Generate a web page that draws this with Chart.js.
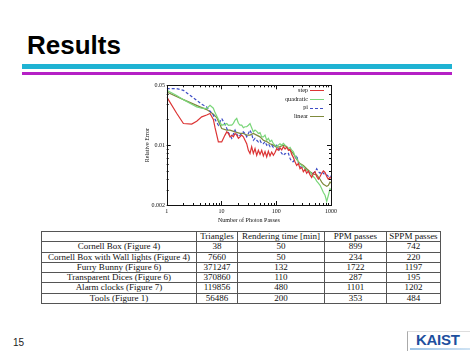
<!DOCTYPE html>
<html><head><meta charset="utf-8">
<script src="https://cdn.jsdelivr.net/npm/chart.js@4.4.0/dist/chart.umd.min.js"></script>
<style>
html,body{margin:0;padding:0;background:#fff;width:474px;height:355px;overflow:hidden;}
body{position:relative;font-family:"Liberation Sans",Arial,sans-serif;}
#title{position:absolute;left:27px;top:30px;font:bold 26px "Liberation Sans",Arial,sans-serif;color:#000;line-height:30px;margin:0;}
.bar1{position:absolute;left:22px;top:64px;width:430px;height:5px;background:#1fb3d3;}
.bar2{position:absolute;left:22px;top:72px;width:430px;height:3px;background:#b520c5;}
#cv{position:absolute;left:138px;top:80px;width:202px;height:148px;}
table{position:absolute;left:41px;top:231px;border-collapse:collapse;table-layout:fixed;width:399px;font:9px "Liberation Serif","Times New Roman",serif;color:#111;}
td{border:1px solid #555;text-align:center;padding:0;height:9.3px;line-height:9.3px;white-space:nowrap;overflow:hidden;}
#page{position:absolute;left:13px;top:337px;font:10px "Liberation Sans",Arial,sans-serif;color:#222;}
#logo{position:absolute;left:407px;top:331px;width:62px;height:19px;border-left:1px solid #aaa;border-top:1px solid #ddd;}
#logo span{position:absolute;left:8px;top:0px;font:bold 15px/16px "Liberation Sans",Arial,sans-serif;color:#1d4f9e;letter-spacing:-0.3px;}
#logo i{position:absolute;left:2px;right:0;bottom:1px;height:2px;background:linear-gradient(90deg,#9cc3e6,#cfe3f4);}
</style></head>
<body>
<div id="title">Results</div>
<div class="bar1"></div><div class="bar2"></div>
<canvas id="cv" width="202" height="148"></canvas>
<table id="tbl"></table>
<div id="page">15</div>
<div id="logo"><span>KAIST</span><i></i></div>
<script>
// ---- data ----
const passes = [1,1.52,2.02,2.86,3.53,4.36,5.37,6.18,7.11,7.63,
 8.78,10.1,11.6,12.5,13.4,14.3,15.4,16.5,17.7,19.0,
 20.4,21.8,23.4,25.1,26.9,28.9,31.0,33.2,35.6,38.2,
 41.0,44.0,47.2,50.6,54.3,58.2,62.4,67.0,71.8,77.0,
 82.6,88.6,95.0,102,109,117,126,135,145,155,
 167,179,192,205,220,236,254,272,292,313,
 336,360,386,414,444,476,511,548,588,631,
 677,726,778,835,896,960,1000];
const stepErr = [0.0366,0.0236,0.0179,0.0176,0.019,0.0214,0.0225,0.0234,0.020,0.016,
 0.0109,0.0109,0.0131,0.0143,0.0137,0.0125,0.013,0.0125,0.0137,0.0131,
 0.012,0.0125,0.0131,0.0125,0.0114,0.0104,0.0087,0.0080,0.0096,0.0080,
 0.0091,0.0076,0.0087,0.0078,0.0087,0.0075,0.0084,0.0073,0.0085,0.0075,
 0.0083,0.0076,0.0082,0.0091,0.0087,0.0093,0.0088,0.0096,0.0090,0.0095,
 0.0087,0.0089,0.0078,0.0072,0.0064,0.0058,0.0061,0.0053,0.0055,0.0049,
 0.0052,0.0047,0.0050,0.0045,0.0042,0.0047,0.0049,0.0043,0.0040,0.0043,
 0.0047,0.0050,0.0048,0.0043,0.0040,0.0042,0.0041];
const quadraticErr = [0.0437,0.038,0.034,0.030,0.028,0.027,0.0267,0.0292,0.027,0.024,
 0.020,0.0171,0.0175,0.0179,0.017,0.0171,0.0171,0.018,0.0196,0.0205,
 0.018,0.0171,0.0171,0.016,0.0164,0.0164,0.0171,0.0179,0.016,0.0143,
 0.015,0.0145,0.0137,0.0140,0.0125,0.0125,0.0131,0.0114,0.012,0.0110,
 0.0114,0.0104,0.0100,0.0096,0.0100,0.0104,0.0100,0.0105,0.0100,0.0096,
 0.0091,0.0094,0.0087,0.0084,0.0075,0.0070,0.0064,0.0060,0.0058,0.0056,
 0.0053,0.0051,0.0050,0.0049,0.0045,0.0043,0.0041,0.0038,0.0036,0.0034,
 0.0031,0.0028,0.0026,0.0022,0.0026,0.0031,0.0030];
const piErr = [0.0457,0.0457,0.0437,0.037,0.0334,0.030,0.028,0.025,0.0224,0.020,
 0.0171,0.0205,0.0175,0.0157,0.014,0.013,0.0120,0.0135,0.0150,0.0135,
 0.0125,0.013,0.0137,0.0143,0.0137,0.0125,0.0137,0.0150,0.0135,0.0114,
 0.0120,0.0114,0.0109,0.0114,0.0104,0.0104,0.011,0.0100,0.0104,0.0096,
 0.0100,0.0094,0.0096,0.0100,0.0091,0.0087,0.0080,0.0076,0.0080,0.0078,
 0.0080,0.0070,0.0064,0.0064,0.0070,0.0076,0.0062,0.0056,0.0055,0.0053,
 0.0053,0.0051,0.0049,0.0048,0.0047,0.0047,0.0049,0.0053,0.0049,0.0047,
 0.0049,0.0047,0.0045,0.0045,0.0043,0.0044,0.0043];
const linearPasses = [1,2.02,4.06,5.37,6.18,7.11,8.18,8.78,10.1,12.5,
 14.3,17.7,21.8,25.1,28.9,33.2,38.2,44.0,50.6,58.2,
 67.0,77.0,88.6,102,117,135,155,179,205,236,
 272,313,360,414,476,548,631,677,726,778,
 835,896,960,1000];
const linearErr = [0.0418,0.034,0.028,0.026,0.0245,0.023,0.021,0.019,0.0156,0.015,
 0.0150,0.0143,0.0137,0.0137,0.0131,0.0131,0.0137,0.0131,0.0125,0.0114,
 0.011,0.0104,0.0100,0.0094,0.0096,0.0100,0.0096,0.0087,0.0080,0.0068,
 0.0061,0.0058,0.0053,0.0049,0.0046,0.0045,0.0040,0.0037,0.0035,0.0034,
 0.0033,0.0034,0.0037,0.0036];
const seriesLabels = ['step','quadratic','pi','linear'];
const xTicks = [1,10,100,1000];
const xTickLabels = ['1','10','100','1000'];
const yTicks = [0.002,0.01,0.05];
const yTickLabels = ['0.002','0.01','0.05'];
const xMinor = [2,3,4,5,6,7,8,9,20,30,40,50,60,70,80,90,200,300,400,500,600,700,800,900];
const yMinor = [0.003,0.004,0.005,0.006,0.007,0.008,0.009,0.02,0.03,0.04];

const tableHeader = ['', 'Triangles', 'Rendering time [min]', 'PPM passes', 'SPPM passes'];
const sceneNames = ['Cornell Box (Figure 4)','Cornell Box with Wall lights (Figure 4)','Furry Bunny (Figure 6)','Transparent Dices (Figure 6)','Alarm clocks (Figure 7)','Tools (Figure 1)'];
const triangles = [38,7660,371247,370860,119856,56486];
const renderMin = [50,50,132,110,480,200];
const ppmPasses = [899,234,1722,287,1101,353];
const sppmPasses = [742,220,1197,195,1202,484];

// ---- table ----
const colW = [155,41,87,62,54];
const tbl = document.getElementById('tbl');
let html = '<colgroup>' + colW.map(w=>'<col style="width:'+w+'px">').join('') + '</colgroup>';
html += '<tr>' + tableHeader.map(h=>'<td>'+h+'</td>').join('') + '</tr>';
sceneNames.forEach((n,i)=>{
  html += '<tr><td>'+n+'</td><td>'+triangles[i]+'</td><td>'+renderMin[i]+'</td><td>'+ppmPasses[i]+'</td><td>'+sppmPasses[i]+'</td></tr>';
});
tbl.innerHTML = html;

// ---- chart ----
const FAM = '"Liberation Serif","Times New Roman",serif';
const pts = (xs, ys) => xs.map((x,i)=>({x:x, y:ys[i]}));
const colors = ['#dc3434','#7ad67a','#3e4ec6','#7f8a3c'];

const framePlugin = {
  id:'frame',
  afterDraw(chart){
    const {ctx, chartArea:a, scales:{x, y}} = chart;
    ctx.save();
    ctx.strokeStyle = '#111'; ctx.lineWidth = 1;
    ctx.strokeRect(Math.round(a.left)+0.5, Math.round(a.top)+0.5, Math.round(a.right-a.left), Math.round(a.bottom-a.top));
    ctx.beginPath();
    const tx = (v,len)=>{ const p=Math.round(x.getPixelForValue(v))+0.5;
      ctx.moveTo(p,a.bottom); ctx.lineTo(p,a.bottom-len); ctx.moveTo(p,a.top); ctx.lineTo(p,a.top+len); };
    const ty = (v,len)=>{ const p=Math.round(y.getPixelForValue(v))+0.5;
      ctx.moveTo(a.left,p); ctx.lineTo(a.left+len,p); ctx.moveTo(a.right,p); ctx.lineTo(a.right-len,p); };
    xTicks.forEach(v=>tx(v,4)); xMinor.forEach(v=>tx(v,2));
    yTicks.forEach(v=>ty(v,4)); yMinor.forEach(v=>ty(v,2));
    ctx.stroke();
    // legend (gnuplot style: right-aligned text, sample line to the right)
    ctx.font = '6.2px ' + FAM;
    ctx.textAlign = 'right'; ctx.textBaseline = 'middle';
    chart.data.datasets.forEach((ds,i)=>{
      const yy = a.top + 5 + i*8.7;
      ctx.fillStyle = '#111';
      ctx.fillText(ds.label, a.right-23, yy);
      ctx.beginPath();
      ctx.strokeStyle = ds.borderColor; ctx.lineWidth = 1;
      ctx.setLineDash(ds.borderDash || []);
      ctx.moveTo(a.right-21, Math.round(yy)+0.5); ctx.lineTo(a.right-7, Math.round(yy)+0.5);
      ctx.stroke(); ctx.setLineDash([]);
    });
    ctx.restore();
  }
};

const mk = (i, xs, ys, extra) => Object.assign({
  label: seriesLabels[i], data: pts(xs, ys), borderColor: colors[i], backgroundColor: colors[i],
  borderWidth: 1.2, pointRadius: 0, tension: 0, fill: false
}, extra || {});

new Chart(document.getElementById('cv'), {
  type: 'line',
  data: { datasets: [
    mk(0, passes, stepErr),
    mk(1, passes, quadraticErr),
    mk(2, passes, piErr, {borderDash:[3,2]}),
    mk(3, linearPasses, linearErr)
  ]},
  options: {
    responsive: false, animation: false, devicePixelRatio: 1,
    layout: { padding: { top: 5, right: 9, left: 0, bottom: 0 } },
    plugins: { legend: { display: false }, tooltip: { enabled: false } },
    scales: {
      x: {
        type: 'logarithmic', min: 1, max: 1000,
        grid: { display: false, drawTicks: false }, border: { display: false },
        afterBuildTicks: s => { s.ticks = xTicks.map(v=>({value:v})); },
        afterFit: s => { s.height = 23; },
        ticks: { callback: (v,i)=>xTickLabels[i], padding: 2.5, autoSkip: false, maxRotation: 0,
                 font: { family: FAM, size: 6 }, color: '#111' },
        title: { display: true, text: 'Number of Photon Passes', color: '#111',
                 font: { family: FAM, size: 6 }, padding: { top: 0, bottom: 3.7 } }
      },
      y: {
        type: 'logarithmic', min: 0.002, max: 0.05,
        grid: { display: false, drawTicks: false }, border: { display: false },
        afterBuildTicks: s => { s.ticks = yTicks.map(v=>({value:v})); },
        afterFit: s => { s.width = 28.7; },
        ticks: { callback: (v,i)=>yTickLabels[i], padding: 1.7, autoSkip: false,
                 font: { family: FAM, size: 6 }, color: '#111' },
        title: { display: true, text: 'Relative Error', color: '#111',
                 font: { family: FAM, size: 6 }, padding: { top: 5.4, bottom: 0 } }
      }
    }
  },
  plugins: [framePlugin]
});
</script>
</body></html>
